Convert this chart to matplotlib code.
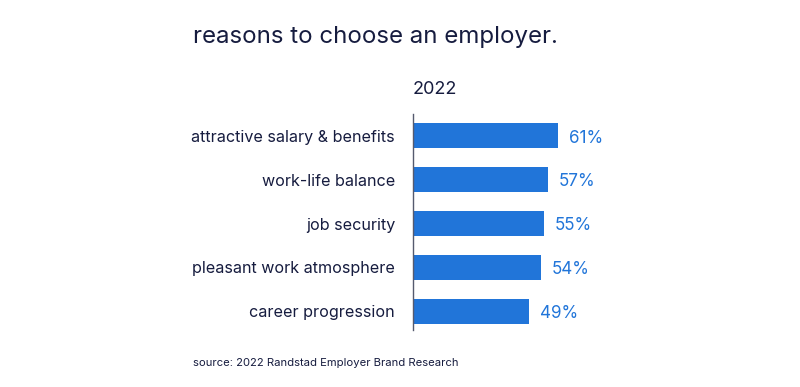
import matplotlib
matplotlib.use("Agg")
import matplotlib.pyplot as plt

categories = ["attractive salary & benefits", "work-life balance", "job security",
              "pleasant work atmosphere", "career progression"]
values = [61, 57, 55, 54, 49]
year_label = "2022"
title = "reasons to choose an employer."
source = "source: 2022 Randstad Employer Brand Research"

navy = "#161c3f"
blue = "#2175d9"
plt.rcParams["font.family"] = ["Inter", "DejaVu Sans"]

fig = plt.figure(figsize=(8, 3.87), dpi=100)
ax = fig.add_axes([0.51625, 0.1473, 0.297, 0.558])

ypos = list(range(len(categories)))
ax.barh(ypos, values, height=0.57, color=blue)
for y, v in zip(ypos, values):
    ax.text(v + 4.5, y + 0.05, f"{v}%", va="center", ha="left", fontsize=12.3, color=blue)

ax.set_xlim(0, 100)
ax.set_ylim(4.43, -0.5)
ax.set_yticks(ypos)
ax.set_yticklabels(categories, fontsize=11.6, color=navy)
ax.tick_params(axis="y", length=0, pad=13)
ax.set_xticks([])
for s in ["top", "right", "bottom"]:
    ax.spines[s].set_visible(False)
ax.spines["left"].set_color("#555a6e")
ax.spines["left"].set_linewidth(1)

fig.text(413 / 800, 1 - 89 / 387, year_label, fontsize=13, color=navy, va="center", ha="left")
fig.text(193 / 800, 1 - 37 / 387, title, fontsize=17.3, color=navy, va="center", ha="left")
fig.text(193 / 800, 1 - 363 / 387, source, fontsize=8.1, color=navy, va="center", ha="left")

fig.savefig("out.png", dpi=100, facecolor="white")
